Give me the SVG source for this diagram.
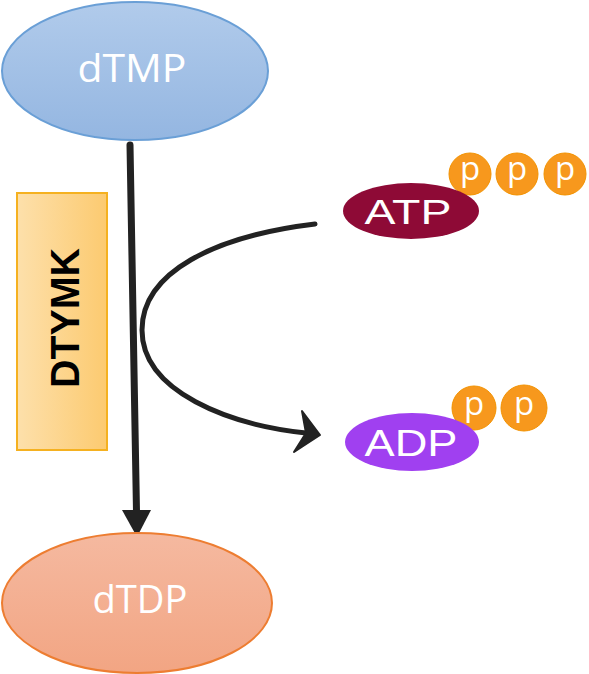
<svg xmlns="http://www.w3.org/2000/svg" width="589" height="674" viewBox="0 0 589 674">
<defs>
<linearGradient id="gBlue" x1="0" y1="0" x2="0" y2="1"><stop offset="0" stop-color="#b1cbeb"/><stop offset="1" stop-color="#94b6e1"/></linearGradient>
<linearGradient id="gSalmon" x1="0" y1="0" x2="0" y2="1"><stop offset="0" stop-color="#f5b9a0"/><stop offset="1" stop-color="#f2a583"/></linearGradient>
<linearGradient id="gOrange" x1="0" y1="0" x2="1" y2="0"><stop offset="0" stop-color="#fde0ab"/><stop offset="1" stop-color="#fcca70"/></linearGradient>
</defs>
<style>
.lbl{font-family:"Open Sans","Noto Sans",sans-serif;fill:#fff;text-anchor:middle}
.cap{font-family:"Liberation Sans",Arial,sans-serif;fill:#fff;text-anchor:middle}
.p{font-family:"Open Sans","Noto Sans",sans-serif;fill:#fff;font-size:33px;text-anchor:middle}
.pc{fill:#f7981d;stroke:#f39200;stroke-width:1}
.conn{fill:none;stroke:#222;stroke-linecap:round}
</style>
<rect width="589" height="674" fill="#fff"/>
<g id="connectors">
<path class="conn" d="M130,145 L136.5,512" stroke-width="7"/>
<path d="M122,510 L151,510 L137,537 Z" fill="#222"/>
<path class="conn" d="M315,224 C215,236 142,272 142,330 C142,392 230,425 306,433" stroke-width="5"/>
<path d="M320,435 L302,411 L306,433 L294,452 Z" fill="#222" stroke="#222" stroke-width="2" stroke-linejoin="round"/>
</g>
<g id="dTMP">
<ellipse cx="135" cy="71" rx="133" ry="69" fill="url(#gBlue)" stroke="#6a9fd6" stroke-width="2"/>
<text class="lbl" x="132" y="82" font-size="39" textLength="109" lengthAdjust="spacingAndGlyphs">dTMP</text>
</g>
<g id="dTDP">
<ellipse cx="137" cy="603" rx="135" ry="70" fill="url(#gSalmon)" stroke="#ed7d31" stroke-width="2"/>
<text class="lbl" x="140" y="613" font-size="38" textLength="95" lengthAdjust="spacingAndGlyphs">dTDP</text>
</g>
<g id="DTYMK">
<rect x="17" y="193" width="90" height="257" fill="url(#gOrange)" stroke="#f5b120" stroke-width="2"/>
<text transform="translate(79,318) rotate(-90)" font-family="Liberation Sans, Arial, sans-serif" font-weight="bold" font-size="40" fill="#000" text-anchor="middle" textLength="140" lengthAdjust="spacingAndGlyphs">DTYMK</text>
</g>
<g id="ATP">
<circle class="pc" cx="470" cy="174" r="21"/>
<circle class="pc" cx="517" cy="174" r="21"/>
<circle class="pc" cx="565" cy="174" r="21"/>
<text class="p" x="470" y="180">p</text>
<text class="p" x="517" y="180">p</text>
<text class="p" x="565" y="180">p</text>
<ellipse cx="411" cy="211" rx="68" ry="28" fill="#8e0a36"/>
<text class="cap" x="408" y="224" font-size="35" textLength="87" lengthAdjust="spacingAndGlyphs">ATP</text>
</g>
<g id="ADP">
<circle class="pc" cx="474" cy="408" r="22"/>
<circle class="pc" cx="524" cy="408" r="23"/>
<text class="p" x="474" y="415">p</text>
<text class="p" x="524" y="415">p</text>
<ellipse cx="412" cy="442" rx="67" ry="29" fill="#a040f0"/>
<text class="cap" x="411" y="456" font-size="36" textLength="93" lengthAdjust="spacingAndGlyphs">ADP</text>
</g>
</svg>
